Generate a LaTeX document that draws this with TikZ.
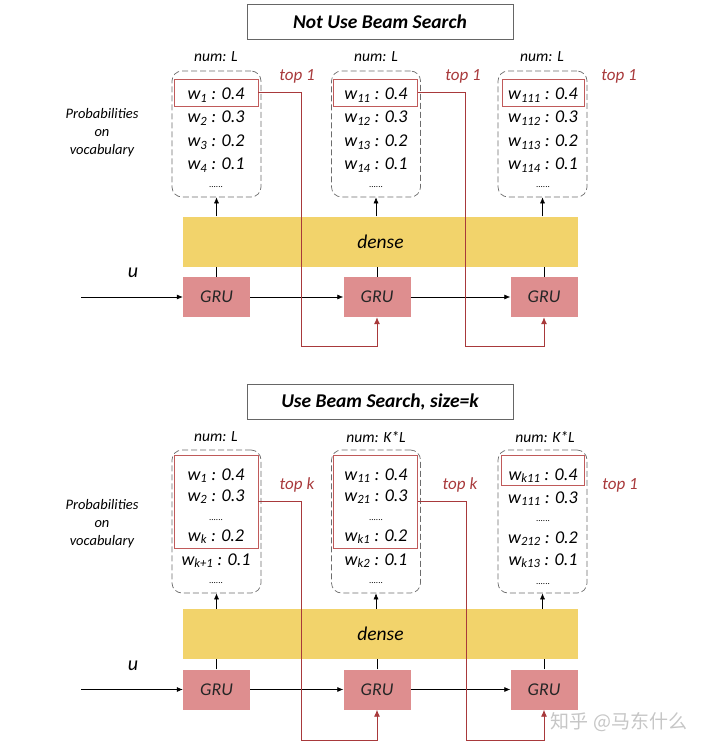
\documentclass[tikz,border=0pt]{standalone}
\usepackage{fontspec}
\setmainfont{Carlito}
\newfontfamily\cjkfont{Noto Sans CJK SC}
\usetikzlibrary{arrows.meta}
\definecolor{densey}{HTML}{F2D36B}
\definecolor{grup}{HTML}{DE8E8F}
\definecolor{topred}{HTML}{A8393B}
\definecolor{boxred}{HTML}{C05A5A}
\newcommand{\wlbl}[2]{w\textsubscript{#1} : #2}
\begin{document}
\begin{tikzpicture}[x=1pt,y=-1pt,
  titlebox/.style={draw=gray!80!black, minimum width=266pt, minimum height=35pt, inner sep=0, font=\fontsize{19.5}{19.5}\selectfont\bfseries\itshape},
  numlbl/.style={inner sep=0, font=\fontsize{15.5}{15.5}\selectfont\itshape},
  toplbl/.style={inner sep=0, text=topred, font=\fontsize{17}{17}\selectfont\itshape},
  problbl/.style={inner sep=0, align=center, font=\fontsize{14.5}{18}\selectfont\itshape},
  probbox/.style={draw=gray!85!black, line width=0.7pt, dash pattern=on 6pt off 3pt, rounded corners=10pt, minimum width=89pt, inner sep=0},
  redbox/.style={draw=boxred, line width=0.9pt, minimum width=84pt, inner sep=0},
  wrow/.style={anchor=base, inner sep=0, font=\fontsize{18}{18}\selectfont\itshape},
  wdots/.style={anchor=base, inner sep=0, font=\fontsize{9}{9}\selectfont},
  densebar/.style={fill=densey, minimum width=395pt, minimum height=50pt, inner sep=0, font=\fontsize{19.5}{19.5}\selectfont\itshape},
  gru/.style={fill=grup, minimum width=67pt, minimum height=40pt, inner sep=0, text=black!85, font=\fontsize{18}{18}\selectfont\itshape},
  blk/.style={-{Latex[length=6pt,width=5pt]}, line width=0.6pt},
  redl/.style={draw=topred, line width=0.9pt, -{Latex[length=7pt,width=6pt]}}
]
\useasboundingbox (0,0) rectangle (720,751);
\node[titlebox] (ttl0) at (380,21.5) {Not Use Beam Search};
\node[problbl] (prob0) at (102,133) {Probabilities\\on\\vocabulary};
\node[numlbl] (num1) at (216,57) {num: L};
\node[numlbl] (num2) at (376,57) {num: L};
\node[numlbl] (num3) at (542,57) {num: L};
\node[probbox, minimum height=126pt] (box1) at (216.5,134) {};
\node[probbox, minimum height=126pt] (box2) at (376,134) {};
\node[probbox, minimum height=126pt] (box3) at (542.5,134) {};
\node[redbox, minimum height=27pt] (sel1) at (216,92.5) {};
\node[redbox, minimum height=27pt] (sel2) at (375.5,92.5) {};
\node[redbox, minimum height=27pt, minimum width=82pt] (sel3) at (543,93) {};
\node[toplbl] (top1) at (297,76) {top 1};
\node[toplbl] (top2) at (463,76) {top 1};
\node[toplbl] (top3) at (619,76) {top 1};
\node[wrow] (r11) at (216,100) {\wlbl{1}{0.4}};
\node[wrow] (r12) at (216,123) {\wlbl{2}{0.3}};
\node[wrow] (r13) at (216,147) {\wlbl{3}{0.2}};
\node[wrow] (r14) at (216,170) {\wlbl{4}{0.1}};
\node[wdots] (r15) at (216,188) {......};
\node[wrow] (r21) at (376,100) {\wlbl{11}{0.4}};
\node[wrow] (r22) at (376,123) {\wlbl{12}{0.3}};
\node[wrow] (r23) at (376,147) {\wlbl{13}{0.2}};
\node[wrow] (r24) at (376,170) {\wlbl{14}{0.1}};
\node[wdots] (r25) at (376,188) {......};
\node[wrow] (r31) at (543,100) {\wlbl{111}{0.4}};
\node[wrow] (r32) at (543,123) {\wlbl{112}{0.3}};
\node[wrow] (r33) at (543,147) {\wlbl{113}{0.2}};
\node[wrow] (r34) at (543,170) {\wlbl{114}{0.1}};
\node[wdots] (r35) at (543,188) {......};
\node[densebar] (dns0) at (380.5,241.5) {dense};
\node[gru] (gru1) at (216.5,297) {GRU};
\node[gru] (gru2) at (377,297) {GRU};
\node[gru] (gru3) at (544,297) {GRU};
\node[inner sep=0, font=\fontsize{20}{20}\selectfont\itshape] (u0) at (133,273) {u};
\coordinate (in0) at (81,297);
\coordinate (bend1) at (301,346);
\coordinate (bend2) at (465,346);
\draw[blk] (in0) -- (gru1.west);
\draw[blk] (gru1) -- (gru2);
\draw[blk] (gru2) -- (gru3);
\draw[line width=0.6pt] (gru1.north) -- (gru1.north |- dns0.south);
\draw[line width=0.6pt] (gru2.north) -- (gru2.north |- dns0.south);
\draw[line width=0.6pt] (gru3.north) -- (gru3.north |- dns0.south);
\draw[blk] (box1.south |- dns0.north) -- (box1.south);
\draw[blk] (box2.south |- dns0.north) -- (box2.south);
\draw[blk] (box3.south |- dns0.north) -- (box3.south);
\draw[redl] (sel1.east) -| (bend1) -| (gru2.south);
\draw[redl] (sel2.east) -| (bend2) -| (gru3.south);
\node[titlebox] (ttl1) at (380,401.5) {Use Beam Search, size=k};
\node[problbl] (prob1) at (102,524) {Probabilities\\on\\vocabulary};
\node[numlbl] (num4) at (216,437) {num: L};
\node[numlbl] (num5) at (376,437) {num: K*L};
\node[numlbl] (num6) at (545,437) {num: K*L};
\node[probbox, minimum height=143pt] (box4) at (216.5,521.5) {};
\node[probbox, minimum height=143pt] (box5) at (376,521.5) {};
\node[probbox, minimum height=143pt] (box6) at (542.5,521.5) {};
\node[redbox, minimum height=93pt] (sel4) at (216,501.5) {};
\node[redbox, minimum height=93pt] (sel5) at (375.5,501.5) {};
\node[redbox, minimum height=30pt, minimum width=83pt] (sel6) at (542.5,470) {};
\node[toplbl] (top4) at (297,485) {top k};
\node[toplbl] (top5) at (460,485) {top k};
\node[toplbl] (top6) at (620,485) {top 1};
\node[wrow] (r41) at (216,480) {\wlbl{1}{0.4}};
\node[wrow] (r42) at (216,501) {\wlbl{2}{0.3}};
\node[wdots] (r43) at (216,520) {......};
\node[wrow] (r44) at (216,541) {\wlbl{k}{0.2}};
\node[wrow] (r45) at (216,565) {\wlbl{k+1}{0.1}};
\node[wdots] (r46) at (216,583) {......};
\node[wrow] (r51) at (376,480) {\wlbl{11}{0.4}};
\node[wrow] (r52) at (376,501) {\wlbl{21}{0.3}};
\node[wdots] (r53) at (376,520) {......};
\node[wrow] (r54) at (376,541) {\wlbl{k1}{0.2}};
\node[wrow] (r55) at (376,565) {\wlbl{k2}{0.1}};
\node[wdots] (r56) at (376,583) {......};
\node[wrow] (r61) at (543,480) {\wlbl{k11}{0.4}};
\node[wrow] (r62) at (543,503) {\wlbl{111}{0.3}};
\node[wdots] (r63) at (543,521) {......};
\node[wrow] (r64) at (543,543) {\wlbl{212}{0.2}};
\node[wrow] (r65) at (543,565) {\wlbl{k13}{0.1}};
\node[wdots] (r66) at (543,584) {......};
\node[densebar] (dns1) at (380.5,634) {dense};
\node[gru] (gru4) at (216.5,689.5) {GRU};
\node[gru] (gru5) at (377,689.5) {GRU};
\node[gru] (gru6) at (544,689.5) {GRU};
\node[inner sep=0, font=\fontsize{20}{20}\selectfont\itshape] (u1) at (133,666) {u};
\coordinate (in1) at (81,689.5);
\coordinate (bend4) at (301,740);
\coordinate (bend5) at (466,740);
\draw[blk] (in1) -- (gru4.west);
\draw[blk] (gru4) -- (gru5);
\draw[blk] (gru5) -- (gru6);
\draw[line width=0.6pt] (gru4.north) -- (gru4.north |- dns1.south);
\draw[line width=0.6pt] (gru5.north) -- (gru5.north |- dns1.south);
\draw[line width=0.6pt] (gru6.north) -- (gru6.north |- dns1.south);
\draw[blk] (box4.south |- dns1.north) -- (box4.south);
\draw[blk] (box5.south |- dns1.north) -- (box5.south);
\draw[blk] (box6.south |- dns1.north) -- (box6.south);
\draw[redl] (sel4.east) -| (bend4) -| (gru5.south);
\draw[redl] (sel5.east) -| (bend5) -| (gru6.south);
\node[inner sep=0, text=gray!45, font=\fontsize{19}{19}\selectfont\cjkfont] (wm0) at (619,722) {知乎 @马东什么};
\end{tikzpicture}
\end{document}
